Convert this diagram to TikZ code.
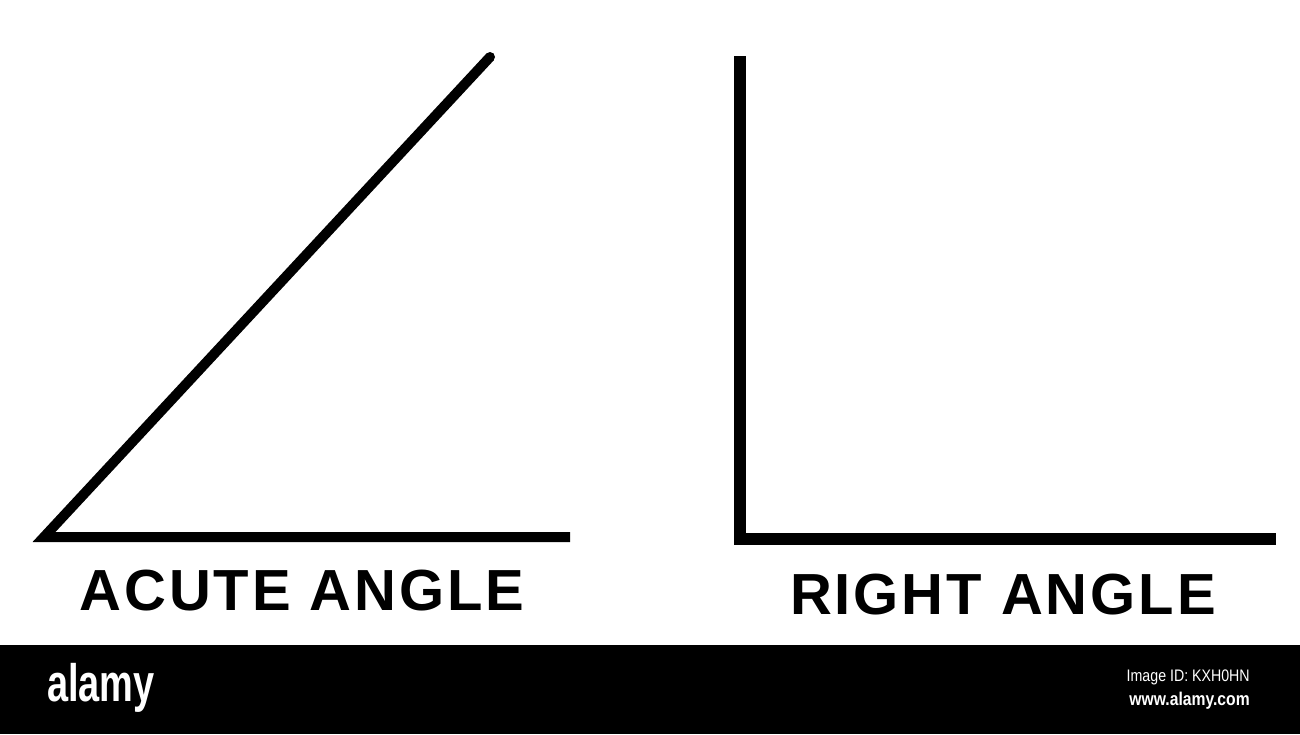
\documentclass[tikz,border=0pt]{standalone}
\usepackage{fontspec}
\setmainfont{Liberation Sans}
\newfontfamily\capsfont[LetterSpace=5]{Liberation Sans}
\begin{document}
\begin{tikzpicture}[x=0.02cm,y=-0.02cm,
    leg/.style={line width=0.2cm, line join=miter},
    anglename/.style={font=\capsfont\bfseries\fontsize{33}{33}\selectfont, inner sep=0pt},
    bandtext/.style={text=white, inner sep=0pt}]
	\useasboundingbox (0,0) rectangle (1300,734);

	% acute angle
	\coordinate (acutetop) at (490,57);
	\coordinate (acutevertex) at (44,537);
	\coordinate (acuteend) at (570,537);
	\draw[leg] (acutetop) -- (acutevertex) -- (acuteend);
	\fill (acutetop) circle (5);

	% right angle
	\coordinate (righttop) at (740,56);
	\coordinate (rightvertex) at (740,539);
	\coordinate (rightend) at (1276,539);
	\draw[leg, line width=0.23cm] (righttop) -- (rightvertex) -- (rightend);

	\node[anglename] (acutename) at (302,591) {ACUTE ANGLE};
	\node[anglename] (rightname) at (1003,595) {RIGHT ANGLE};

	% band
	\fill (0,645) rectangle (1300,734);
	\node[bandtext, font=\bfseries\fontsize{30}{30}\selectfont, xscale=0.72] (logo) at (101,688) {alamy};
	\node[bandtext, font=\fontsize{9.5}{10}\selectfont, xscale=0.85, anchor=east] (imageid) at (1250,677) {Image ID: KXH0HN};
	\node[bandtext, font=\bfseries\fontsize{10.5}{11}\selectfont, xscale=0.85, anchor=east] (site) at (1250,701) {www.alamy.com};
\end{tikzpicture}
\end{document}
